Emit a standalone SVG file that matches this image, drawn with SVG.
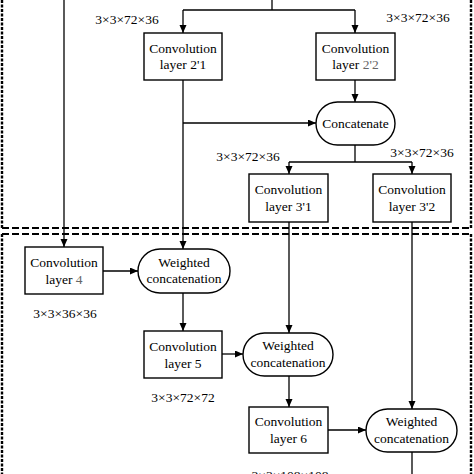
<svg xmlns="http://www.w3.org/2000/svg" width="474" height="474" viewBox="0 0 474 474" font-family="Liberation Serif, DejaVu Serif, Times New Roman, serif" font-size="13.5">
<style>
.box{fill:#fff;stroke:#000;stroke-width:1.4}
.ln{fill:none;stroke:#000;stroke-width:1.3}
text{fill:#000;text-anchor:middle}
.g{fill:#666}
.dh{fill:none;stroke:#000;stroke-width:2;stroke-dasharray:7,3}
.dv{fill:none;stroke:#000;stroke-width:2.4;stroke-dasharray:3,1.5}
</style>
<defs>
<marker id="ah" markerUnits="userSpaceOnUse" markerWidth="9" markerHeight="8" refX="8" refY="3.5" orient="auto">
<path d="M0,0 L8,3.5 L0,7 z" fill="#000"/>
</marker>
</defs>
<g id="frames">
<line class="dv" x1="2" y1="0" x2="2" y2="228"/>
<line class="dv" x1="471" y1="0" x2="471" y2="228"/>
<line class="dh" x1="2" y1="228" x2="471" y2="228"/>
<line class="dh" x1="2" y1="234" x2="471" y2="234"/>
<line class="dv" x1="2" y1="234" x2="2" y2="474"/>
<line class="dv" x1="471" y1="234" x2="471" y2="474"/>
</g>
<g id="connectors">
<line class="ln" x1="64" y1="0" x2="64" y2="247" marker-end="url(#ah)"/>
<line class="ln" x1="272" y1="0" x2="272" y2="10"/>
<line class="ln" x1="183" y1="10" x2="355" y2="10"/>
<line class="ln" x1="183" y1="10" x2="183" y2="33" marker-end="url(#ah)"/>
<line class="ln" x1="355" y1="10" x2="355" y2="33" marker-end="url(#ah)"/>
<line class="ln" x1="355" y1="80" x2="355" y2="102" marker-end="url(#ah)"/>
<line class="ln" x1="183" y1="80" x2="183" y2="249" marker-end="url(#ah)"/>
<line class="ln" x1="183" y1="123" x2="316" y2="123" marker-end="url(#ah)"/>
<line class="ln" x1="355" y1="145" x2="355" y2="162"/>
<line class="ln" x1="289" y1="162" x2="412" y2="162"/>
<line class="ln" x1="289" y1="162" x2="289" y2="174" marker-end="url(#ah)"/>
<line class="ln" x1="412" y1="162" x2="412" y2="174" marker-end="url(#ah)"/>
<line class="ln" x1="289" y1="222" x2="289" y2="333" marker-end="url(#ah)"/>
<line class="ln" x1="412" y1="222" x2="412" y2="409" marker-end="url(#ah)"/>
<line class="ln" x1="103" y1="271" x2="138" y2="271" marker-end="url(#ah)"/>
<line class="ln" x1="183" y1="293" x2="183" y2="331" marker-end="url(#ah)"/>
<line class="ln" x1="222" y1="354" x2="243" y2="354" marker-end="url(#ah)"/>
<line class="ln" x1="289" y1="376" x2="289" y2="407" marker-end="url(#ah)"/>
<line class="ln" x1="328" y1="430" x2="366" y2="430" marker-end="url(#ah)"/>
<line class="ln" x1="412" y1="452" x2="412" y2="474"/>
</g>
<g id="labels">
<text x="127" y="24">3×3×72×36</text>
<text x="418" y="22">3×3×72×36</text>
<text x="248" y="161">3×3×72×36</text>
<text x="422" y="157">3×3×72×36</text>
<text x="65" y="318">3×3×36×36</text>
<text x="183" y="402">3×3×72×72</text>
<text x="290" y="480">3×3×108×108</text>
</g>
<g id="conv21">
<rect class="box" x="144" y="33" width="78" height="47"/>
<text x="183" y="53">Convolution</text>
<text x="183" y="69">layer 2'1</text>
</g>
<g id="conv22">
<rect class="box" x="316" y="33" width="79" height="47"/>
<text x="355.5" y="53">Convolution</text>
<text x="355.5" y="69">layer <tspan class="g">2'2</tspan></text>
</g>
<g id="concat">
<rect class="box" x="316" y="102" width="79" height="43" rx="21.5" ry="21.5"/>
<text x="355.5" y="128">Concatenate</text>
</g>
<g id="conv31">
<rect class="box" x="249" y="174" width="79" height="48"/>
<text x="288.5" y="194">Convolution</text>
<text x="288.5" y="211">layer 3'1</text>
</g>
<g id="conv32">
<rect class="box" x="373" y="174" width="78" height="48"/>
<text x="412" y="194">Convolution</text>
<text x="412" y="211">layer 3'2</text>
</g>
<g id="conv4">
<rect class="box" x="25" y="247" width="78" height="47"/>
<text x="64" y="267">Convolution</text>
<text x="64" y="284">layer <tspan class="g">4</tspan></text>
</g>
<g id="wc1">
<rect class="box" x="138" y="249" width="92" height="44" rx="22" ry="22"/>
<text x="184" y="267">Weighted</text>
<text x="184" y="283">concatenation</text>
</g>
<g id="conv5">
<rect class="box" x="144" y="331" width="78" height="47"/>
<text x="183" y="351">Convolution</text>
<text x="183" y="368">layer 5</text>
</g>
<g id="wc2">
<rect class="box" x="243" y="333" width="90" height="43" rx="21.5" ry="21.5"/>
<text x="288" y="350">Weighted</text>
<text x="288" y="367">concatenation</text>
</g>
<g id="conv6">
<rect class="box" x="249" y="407" width="79" height="46"/>
<text x="288.5" y="426">Convolution</text>
<text x="288.5" y="443">layer 6</text>
</g>
<g id="wc3">
<rect class="box" x="366" y="409" width="91" height="43" rx="21.5" ry="21.5"/>
<text x="411.5" y="426">Weighted</text>
<text x="411.5" y="443">concatenation</text>
</g>
</svg>
